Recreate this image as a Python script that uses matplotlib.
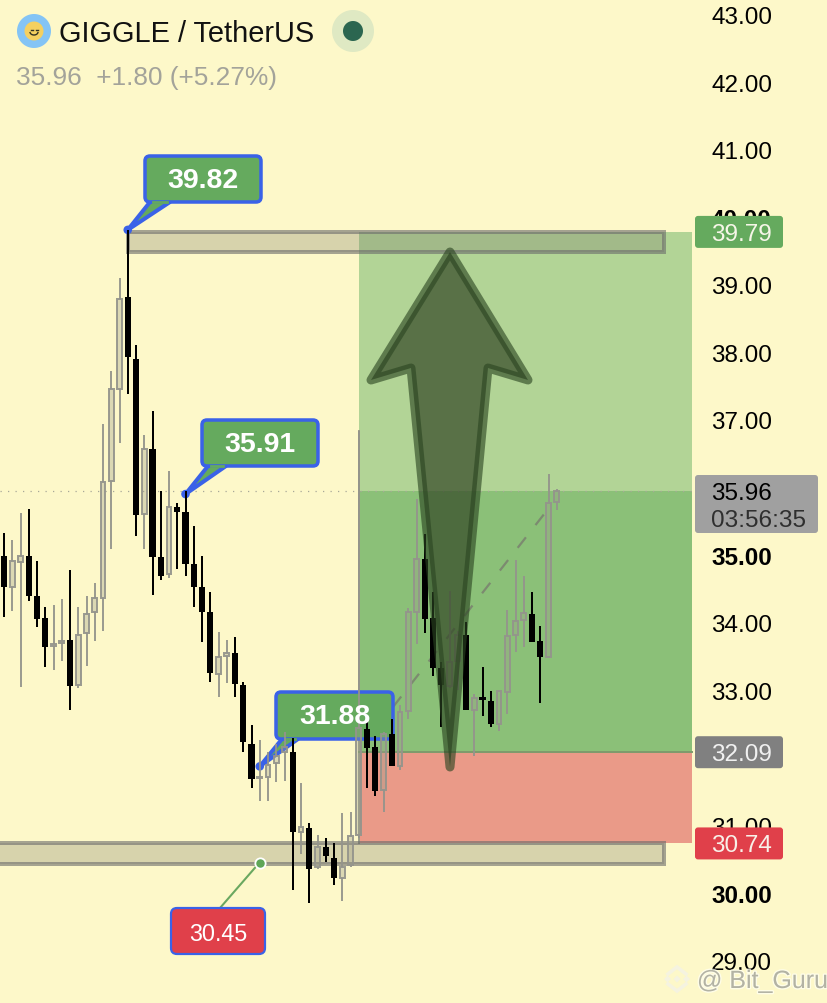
import numpy as np
import matplotlib
matplotlib.use("Agg")
import matplotlib.pyplot as plt
import matplotlib.patheffects as pe
from matplotlib.patches import Rectangle, FancyBboxPatch, Polygon

opens = [34.99,34.54,34.90,34.99,34.40,34.08,33.66,33.71,33.75,33.08,33.85,34.16,34.37,36.11,37.47,38.83,37.91,35.62,36.58,34.98,
         34.73,35.72,35.64,34.88,34.54,34.16,33.25,33.51,33.56,33.08,32.21,31.71,31.72,31.93,32.09,32.09,30.91,30.97,30.39,30.69,
         30.52,30.23,30.42,30.86,32.43,32.17,31.53,32.36,31.89,32.70,34.17,34.95,34.08,33.34,33.07,33.44,33.82,32.71,32.91,32.85,
         32.51,32.98,33.82,34.05,34.13,33.74,33.50,35.79]
closes = [34.54,34.92,34.99,34.40,34.06,33.65,33.69,33.74,33.07,33.82,34.13,34.37,36.09,37.47,38.80,37.94,35.60,36.58,34.98,34.70,
          35.72,35.64,34.88,34.54,34.16,33.26,33.50,33.56,33.10,32.24,31.69,31.72,31.90,32.03,32.17,30.91,30.98,30.36,30.69,30.55,
          30.23,30.39,30.85,32.45,32.15,31.52,32.36,31.89,32.69,34.17,34.95,34.06,33.34,33.08,33.42,33.82,32.71,32.89,32.86,32.51,
          32.99,33.81,34.03,34.15,33.72,33.50,35.78,35.96]
highs = [35.33,35.23,35.63,35.69,34.92,34.24,34.27,34.36,34.79,34.24,34.40,34.59,36.95,37.73,39.11,39.82,38.12,36.78,37.14,35.96,
         36.25,35.78,35.96,35.44,34.99,34.46,33.87,33.75,33.79,33.13,32.49,32.27,32.09,32.21,32.39,32.30,31.63,31.04,30.86,30.82,
         30.75,31.19,31.21,36.84,32.55,32.33,32.39,32.58,32.79,34.22,35.84,35.32,34.46,33.42,34.48,33.88,34.02,32.95,33.35,33.00,
         33.00,34.19,34.93,34.70,34.46,33.96,36.21,35.99]
lows = [34.09,34.18,33.05,34.33,33.94,33.35,33.31,33.44,32.71,33.04,33.37,33.74,33.88,35.10,36.67,37.39,35.29,35.10,34.42,34.64,
        34.67,34.80,34.70,34.24,33.72,33.13,32.91,33.11,32.91,32.09,31.56,31.37,31.37,31.65,31.66,30.05,30.58,29.86,30.36,30.46,
        30.12,29.89,30.39,30.82,31.56,31.44,31.21,31.89,31.83,32.58,33.69,33.85,33.22,32.46,33.04,33.01,32.71,32.03,32.63,32.46,
        32.40,32.65,33.57,33.65,33.72,32.82,33.50,35.67]
tick_prices = [43, 42, 41, 40, 39, 38, 37, 35, 34, 33, 31, 30, 29]
bold_ticks = [40, 35, 30]
take_profit, entry, stop_loss, last_price = 39.79, 32.09, 30.74, 35.96
upper_zone = (39.79, 39.50)
lower_zone = (30.74, 30.43)
callouts = [("39.82", 39.82, 15), ("35.91", 35.91, 22), ("31.88", 31.88, 31)]

W, H = 828, 1004
BG = "#fdf8c9"
plt.rcParams["font.family"] = ["Liberation Sans", "DejaVu Sans"]
fig = plt.figure(figsize=(W/100, H/100), dpi=100, facecolor=BG)
ax = fig.add_axes([0, 0, 1, 1])
ax.set_facecolor(BG)
ax.axis("off")
PXU = 946/14
XS = 8.25
ax.set_xlim(-4/XS, (W-4)/XS)
ax.set_ylim(43-(H-16)/PXU, 43+16/PXU)
X = lambda px: (px-4)/XS
Y = lambda py: 43-(py-16)/PXU
T = lambda py: Y(py+2)   # text centre correction
LW = 0.72  # points per pixel

# position tool
xa, xb = X(359), X(692)
def zone(p0, p1, col, z):
    ax.add_patch(Rectangle((xa, p0), xb-xa, p1-p0, fc=col, ec="none", zorder=z))
zone(last_price, take_profit, "#b2d496", 1)
zone(entry, last_price, "#8bc078", 1)
zone(stop_loss, entry, "#ea9a88", 1)
ax.plot([xa, xa], [stop_loss, Y(432)], color="#9a9c88", lw=1.4, zorder=1.5)
ax.plot([xa, xb], [entry, entry], color="#7e9a6c", lw=1.4, zorder=1.5)
ax.plot([X(0), xb], [last_price]*2, color="#a8a898", lw=0.9, ls=(0, (1, 5)), zorder=1.6)

# supply / demand zones
zc = dict(fc=(0.50, 0.50, 0.42, 0.30), ec=(0.42, 0.42, 0.42, 0.60), lw=4*LW, zorder=2)
ax.add_patch(Rectangle((15, upper_zone[1]), X(664)-15, upper_zone[0]-upper_zone[1], **zc))
ax.add_patch(Rectangle((X(-6), lower_zone[1]), X(664)-X(-6), lower_zone[0]-lower_zone[1], **zc))

# dashed projection
ax.plot([X(393), X(552)], [Y(708), Y(505)], color="#7c8a70", lw=1.6, ls=(0, (6, 7)), zorder=2.5)

BLUE = "#3a62e8"
GREEN = "#65aa5e"
def callout(txt, price, idx, box, tail):
    x0, y0, x1, y1 = box
    ax.add_patch(FancyBboxPatch((X(x0), Y(y1)), X(x1)-X(x0), Y(y0)-Y(y1),
                 boxstyle=f"round,pad=0,rounding_size={5/XS:.3f}", mutation_aspect=XS/PXU,
                 fc=GREEN, ec=BLUE, lw=3.5*LW, zorder=3))
    ax.add_patch(Polygon([(idx, price), (X(tail[0]), Y(y1)), (X(tail[1]), Y(y1))], closed=True,
                 fc=GREEN, ec=BLUE, lw=4*LW, joinstyle="round", zorder=2.9))
    ax.plot([X(tail[0]+3), X(tail[1]-3)], [Y(y1)]*2, color=GREEN, lw=2, zorder=3.1)
    ax.scatter([idx], [price], s=38, color=BLUE, edgecolors="none", zorder=3.2)
    ax.text(X((x0+x1)/2), T((y0+y1)/2-1), txt, color="white", ha="center", va="center",
            fontsize=20.5, fontweight="bold", zorder=8)
boxes = [(145, 157, 261, 203), (202, 421, 318, 467), (276, 693, 393, 740)]
tails = [(150, 170), (208, 226), (282, 298)]
for (t, p, i), b, tl in zip(callouts, boxes, tails):
    callout(t, p, i, b, tl)

# red 30.45 label
ax.plot([X(260), X(220)], [Y(863), Y(909)], color="#6aa860", lw=1.5, zorder=3)
ax.add_patch(FancyBboxPatch((X(171), Y(955)), X(265)-X(171), Y(909)-Y(955),
             boxstyle=f"round,pad=0,rounding_size={6/XS:.3f}", mutation_aspect=XS/PXU,
             fc="#e0404a", ec=BLUE, lw=2.2*LW, zorder=3))
ax.text(X(218), T(933), "30.45", color="white", ha="center", va="center", fontsize=16.8, zorder=8)
ax.scatter([X(260)], [30.45], s=55, color="#5fa657", edgecolors="white", linewidths=1.3, zorder=6)

# candles
n = len(opens)
xs = np.arange(n)
o, c, h, l = map(np.array, (opens, closes, highs, lows))
up = c >= o
GREY = (0.58, 0.58, 0.55, 0.92)
top, bot = np.maximum(o, c), np.minimum(o, c)
ax.vlines(xs[up], top[up], h[up], color=GREY, lw=2*LW, zorder=4)
ax.vlines(xs[up], l[up], bot[up], color=GREY, lw=2*LW, zorder=4)
ax.vlines(xs[~up], l[~up], h[~up], color="black", lw=2*LW, zorder=4.5)
ax.bar(xs[up], (top-bot)[up], bottom=bot[up], width=0.56,
       facecolor=(0.62, 0.62, 0.55, 0.35), edgecolor=GREY, linewidth=2*LW, zorder=4.2)
ax.bar(xs[~up], (top-bot)[~up], bottom=bot[~up], width=0.78,
       color="black", edgecolor="none", zorder=4.6)

# arrow
pts = [(450, 253), (528, 381), (488, 369), (450, 768), (411, 369), (371, 381)]
ax.add_patch(Polygon([(X(a), Y(b)) for a, b in pts], closed=True,
             fc=(0.20, 0.28, 0.15, 0.70), ec=(0.17, 0.27, 0.13, 0.62), lw=9*LW, joinstyle="round", zorder=5))

# y-axis labels
for p in tick_prices:
    ax.text(X(711), p-2/PXU, f"{p:.2f}", color="black", ha="left", va="center", fontsize=17.5,
            fontweight="bold" if p in bold_ticks else "normal", zorder=6)

def tag(x0, x1, p, col, txt, tc="white"):
    ax.add_patch(FancyBboxPatch((X(x0), p-16/PXU), X(x1)-X(x0), 32/PXU,
                 boxstyle=f"round,pad=0,rounding_size={3/XS:.3f}", mutation_aspect=XS/PXU,
                 fc=col, ec="none", zorder=7))
    ax.text(X(711), p-2/PXU, txt, color=tc, ha="left", va="center", fontsize=17.5, zorder=8)
tag(695, 783, take_profit, "#65aa5e", f"{take_profit:.2f}", "#f6f6e8")
tag(695, 783, entry, "#808080", f"{entry:.2f}", "#f0f0f0")
tag(695, 783, stop_loss, "#e0404a", f"{stop_loss:.2f}", "#f8f0e8")
ax.add_patch(FancyBboxPatch((X(695), Y(534)), X(818)-X(695), Y(476)-Y(534),
             boxstyle=f"round,pad=0,rounding_size={3/XS:.3f}", mutation_aspect=XS/PXU,
             fc="#a0a0a0", ec="none", zorder=7))
ax.text(X(711), T(492), f"{last_price:.2f}", color="black", ha="left", va="center", fontsize=17.5, zorder=8)
ax.text(X(711), T(519), "03:56:35", color="#2f2f2f", ha="left", va="center", fontsize=17.6, zorder=8)

# header
ax.text(X(59), T(32), "GIGGLE / TetherUS", color="#111111", ha="left", va="center", fontsize=20.9, zorder=8)
ax.text(X(16), T(76), "35.96  +1.80 (+5.27%)", color="#a3a39a", ha="left", va="center", fontsize=18.9, zorder=8)

def disc(px, py, r, col, z=8):
    ax.add_patch(Polygon([(X(px+r*np.cos(t)), Y(py+r*np.sin(t))) for t in np.linspace(0, 2*np.pi, 80)],
                 closed=True, fc=col, ec="none", zorder=z))
disc(34, 32, 17, "#84c4f5")
disc(34, 32, 9.5, "#f4d060")
ax.plot([X(31), X(33)], [Y(31.5)]*2, color="#333322", lw=1, zorder=9)
ax.plot([X(35.5), X(38)], [Y(31.5)]*2, color="#333322", lw=1, zorder=9)
t = np.linspace(0.2, np.pi-0.2, 20)
ax.plot([X(34+4*np.cos(v)) for v in t], [Y(33+3*np.sin(v)) for v in t], color="#333322", lw=1, zorder=9)
disc(353, 32, 21, "#dfe9c3")
disc(353, 32, 10, "#2b6650", 9)

# watermark
ax.text(X(697), T(980), "@ Bit_Guru", color="#b3b3a4", ha="left", va="center", fontsize=18, zorder=10,
        path_effects=[pe.withStroke(linewidth=2, foreground=(1, 1, 0.95, 0.75))])
WM = "#f5f3e0"
cx, cy = 677, 980
for dx, dy, r in [(0, 0, 3.5), (-9.5, 0, 3.5), (9.5, 0, 3.5)]:
    ax.add_patch(Polygon([(X(cx+dx-r), Y(cy+dy)), (X(cx+dx), Y(cy+dy-r)), (X(cx+dx+r), Y(cy+dy)), (X(cx+dx), Y(cy+dy+r))],
                 closed=True, fc=WM, ec="none", zorder=10))
for s in (-1, 1):
    ax.plot([X(cx-9), X(cx), X(cx+9)], [Y(cy+s*5), Y(cy+s*12), Y(cy+s*5)], color=WM, lw=3.6*LW, solid_joinstyle="miter", zorder=10)

fig.savefig("out.png", dpi=100, facecolor=BG)
